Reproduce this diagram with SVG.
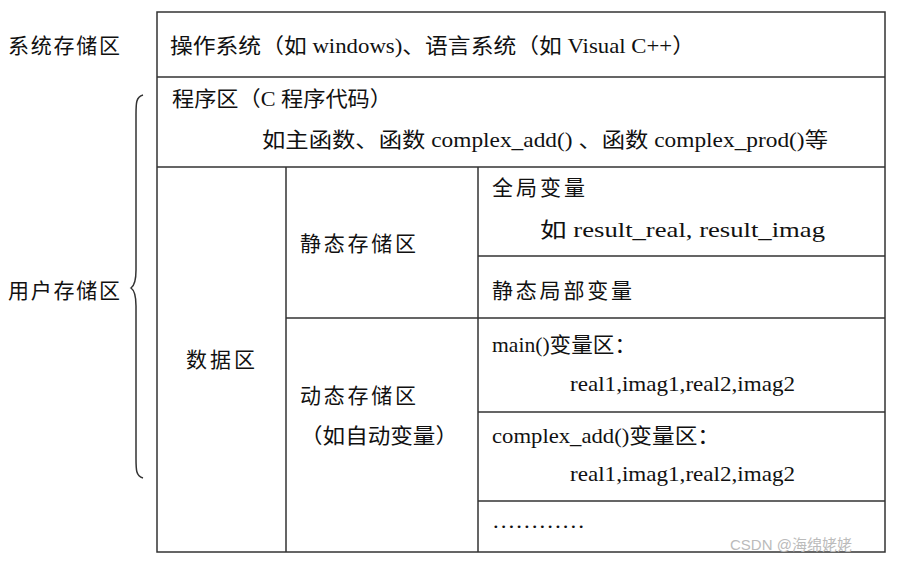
<svg xmlns="http://www.w3.org/2000/svg" width="902" height="563" viewBox="0 0 902 563">
<style>
text{font-family:"Liberation Serif","Noto Sans CJK SC",serif;font-size:21px;fill:#111}
.l{stroke:#333;stroke-width:1.5;fill:none}
.w{font-family:"Liberation Sans","Noto Sans CJK SC",sans-serif;font-size:15px;fill:#bbb}
</style>
<rect width="902" height="563" fill="#fff"/>
<g id="table">
<rect class="l" x="157" y="12" width="728" height="540"/>
<path class="l" d="M157 77H885M157 167H885M286 167V552M478 167V552M478 256H885M286 318H885M478 412H885M478 501H885"/>
</g>
<g id="connectors">
<path class="l" stroke-width="1.2" d="M143 95C136 97 136 103 136 115V270C136 282 134 286 131 288C134 290 136 294 136 306V458C136 470 136 476 143 478"/>
</g>
<g id="labels">
<text x="8" y="53" textLength="112">系统存储区</text>
<text x="8" y="298" textLength="112">用户存储区</text>
<text x="170" y="53" textLength="525" lengthAdjust="spacingAndGlyphs">操作系统（如 windows)、语言系统（如 Visual C++）</text>
<text x="172" y="106" textLength="220" lengthAdjust="spacingAndGlyphs">程序区（C 程序代码）</text>
<text x="262" y="147" textLength="566" lengthAdjust="spacingAndGlyphs">如主函数、函数 complex_add() 、函数 complex_prod()等</text>
<text x="186" y="367" textLength="69">数据区</text>
<text x="300" y="251" textLength="116">静态存储区</text>
<text x="300" y="403" textLength="116">动态存储区</text>
<text x="300" y="443" textLength="158" lengthAdjust="spacingAndGlyphs">（如自动变量）</text>
<text x="492" y="195" textLength="93">全局变量</text>
<text x="540" y="237" textLength="285" lengthAdjust="spacingAndGlyphs">如 result_real, result_imag</text>
<text x="492" y="298" textLength="140">静态局部变量</text>
<text x="492" y="352" textLength="144" lengthAdjust="spacingAndGlyphs">main()变量区：</text>
<text x="570" y="391" textLength="225" lengthAdjust="spacingAndGlyphs">real1,imag1,real2,imag2</text>
<text x="492" y="443" textLength="228" lengthAdjust="spacingAndGlyphs">complex_add()变量区：</text>
<text x="570" y="481" textLength="225" lengthAdjust="spacingAndGlyphs">real1,imag1,real2,imag2</text>
<text x="492" y="528" textLength="93" lengthAdjust="spacingAndGlyphs">…………</text>
<text class="w" x="730" y="550">CSDN @海绵姥姥</text>
</g>
</svg>
